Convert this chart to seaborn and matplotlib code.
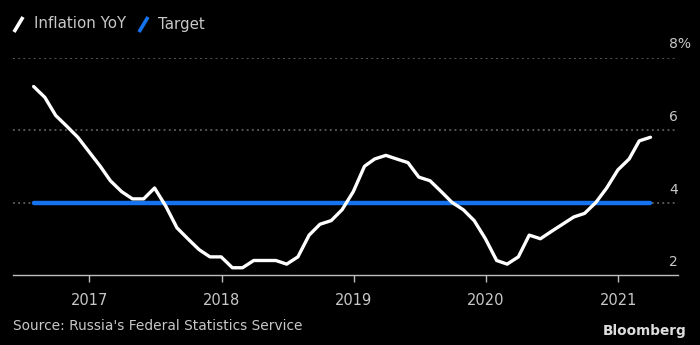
import matplotlib
matplotlib.use("Agg")
import matplotlib.pyplot as plt
import matplotlib.dates as mdates
from matplotlib.lines import Line2D
import matplotlib.transforms as mtransforms
import numpy as np
import pandas as pd
import seaborn as sns

# ---- data ----
months = pd.date_range("2016-07-31", "2021-03-31", freq="ME")
inflation = [7.2, 6.9, 6.4, 6.1, 5.8, 5.4,
             5.0, 4.6, 4.3, 4.1, 4.1, 4.4, 3.9, 3.3, 3.0, 2.7, 2.5, 2.5,
             2.2, 2.2, 2.4, 2.4, 2.4, 2.3, 2.5, 3.1, 3.4, 3.5, 3.8, 4.3,
             5.0, 5.2, 5.3, 5.2, 5.1, 4.7, 4.6, 4.3, 4.0, 3.8, 3.5, 3.0,
             2.4, 2.3, 2.5, 3.1, 3.0, 3.2, 3.4, 3.6, 3.7, 4.0, 4.4, 4.9,
             5.2, 5.7, 5.8]
target = [4.0] * len(inflation)
year_ticks = ["2017", "2018", "2019", "2020", "2021"]
y_ticks = [2, 4, 6, 8]
y_tick_labels = ["2", "4", "6", "8%"]
series_names = ["Inflation YoY", "Target"]
source_text = "Source: Russia's Federal Statistics Service"

df = pd.DataFrame({"date": months, "Inflation YoY": inflation, "Target": target})

sns.set_style("dark")
plt.rcParams["font.family"] = ["DejaVu Sans"]

W, H = 700, 345
fig = plt.figure(figsize=(7, 3.45), dpi=100, facecolor="black")
ax = fig.add_axes([13 / W, 1 - 275 / H, (678 - 13) / W, (275 - 57.5) / H])
ax.set_facecolor("black")

white = "#ffffff"
blue = "#1673f0"
text_col = "#c8c8c8"

sns.lineplot(data=df, x="date", y="Target", ax=ax, color=blue, lw=3.2, zorder=3)
sns.lineplot(data=df, x="date", y="Inflation YoY", ax=ax, color=white, lw=2.4, zorder=4)

ax.set_ylim(2, 8)
x0 = pd.Timestamp("2016-06-04")
x1 = pd.Timestamp("2021-06-15")
ax.set_xlim(x0, x1)

# gridlines
for v in y_ticks[1:]:
    ax.axhline(v, color="#707070", lw=1.1, ls=(0, (1.2, 2.2)), zorder=1)

for s in ["top", "left", "right"]:
    ax.spines[s].set_visible(False)
ax.spines["bottom"].set_color("#bdbdbd")
ax.spines["bottom"].set_linewidth(1.0)

ax.set_xticks([pd.Timestamp(f"{y}-01-01") for y in year_ticks])
ax.set_xticklabels(year_ticks)
ax.tick_params(axis="x", colors="#bdbdbd", length=5, width=1, labelcolor=text_col,
               labelsize=10.5, pad=8, bottom=True)
ax.set_yticks([])
ax.set_xlabel("")
ax.set_ylabel("")
ax.grid(False)
if ax.get_legend():
    ax.get_legend().remove()

# right y labels above gridlines
trans = mtransforms.blended_transform_factory(ax.transAxes, ax.transData)
offset = mtransforms.ScaledTranslation(0, 6 / 100, fig.dpi_scale_trans)
for v, lab in zip(y_ticks, y_tick_labels):
    ax.text((669 - 13) / (678 - 13), v, lab, transform=trans + offset, ha="left",
            va="bottom", color=text_col, fontsize=10, clip_on=False)

# legend
def leg_icon(x, col):
    fig.add_artist(Line2D([x / W, (x + 9) / W], [1 - 32 / H, 1 - 17 / H],
                          color=col, lw=2.6, transform=fig.transFigure,
                          solid_capstyle="butt"))
leg_icon(14, white)
fig.text(34 / W, 1 - 24 / H, series_names[0], color=text_col, fontsize=10.8, va="center")
leg_icon(139, blue)
fig.text(158 / W, 1 - 24 / H, series_names[1], color=text_col, fontsize=10.8, va="center")

fig.text(13 / W, 1 - 326 / H, source_text, color=text_col, fontsize=9.9, va="center")
fig.text(687 / W, 1 - 331 / H, "Bloomberg", color="#dddddd", fontsize=9.8,
         fontweight="bold", va="center", ha="right")

fig.savefig("out.png", dpi=100, facecolor="black")
